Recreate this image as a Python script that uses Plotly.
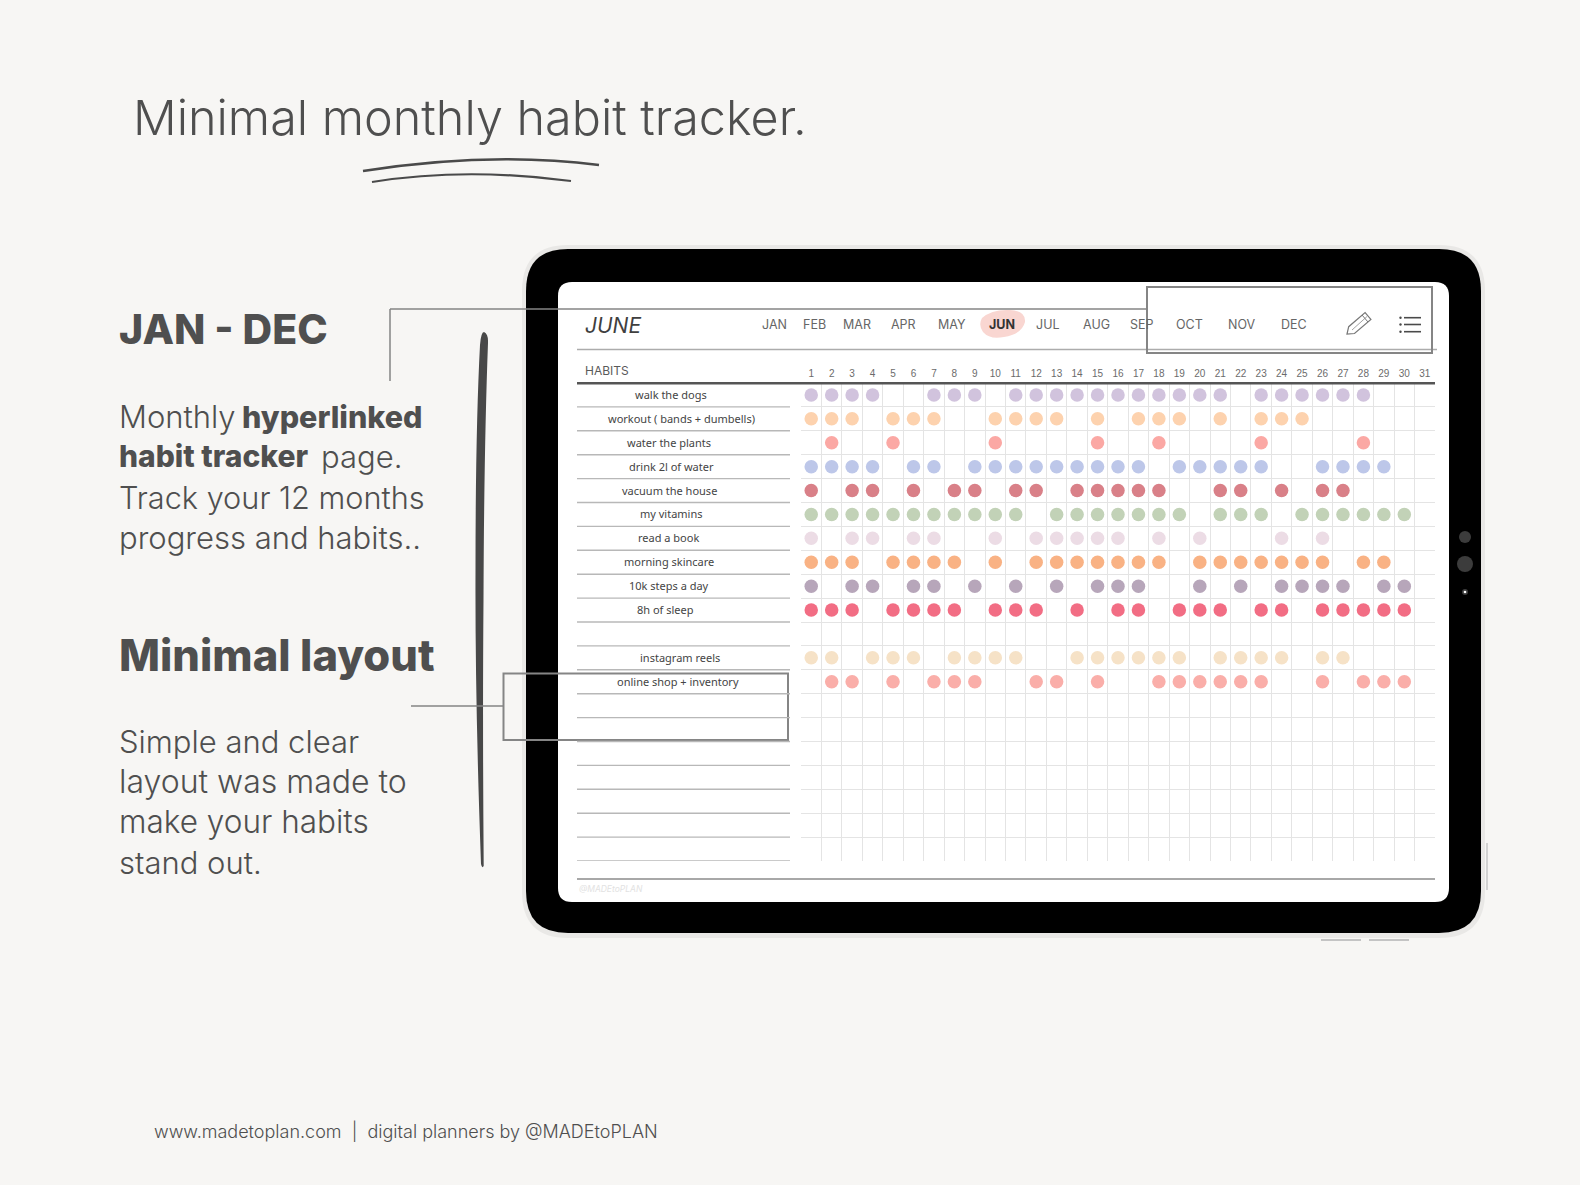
import plotly.graph_objects as go

# Habit rows, top to bottom ("" = empty row)
habits = ['walk the dogs', 'workout ( bands + dumbells)', 'water the plants', 'drink 2l of water',
          'vacuum the house', 'my vitamins', 'read a book', 'morning skincare', '10k steps a day',
          '8h of sleep', '', 'instagram reels', 'online shop + inventory',
          '', '', '', '', '', '', '']

days = list(range(1, 32))
months = ['JAN', 'FEB', 'MAR', 'APR', 'MAY', 'JUN', 'JUL', 'AUG', 'SEP', 'OCT', 'NOV', 'DEC']

# Ticked days per habit
walk_days = [1, 2, 3, 4, 7, 8, 9, 11, 12, 13, 14, 15, 16, 17, 18, 19, 20, 21, 23, 24, 25, 26, 27, 28]
workout_days = [1, 2, 3, 5, 6, 7, 10, 11, 12, 13, 15, 17, 18, 19, 21, 23, 24, 25]
plants_days = [2, 5, 10, 15, 18, 23, 28]
water_days = [1, 2, 3, 4, 6, 7, 9, 10, 11, 12, 13, 14, 15, 16, 17, 19, 20, 21, 22, 23, 26, 27, 28, 29]
vacuum_days = [1, 3, 4, 6, 8, 9, 11, 12, 14, 15, 16, 17, 18, 21, 22, 24, 26, 27]
vitamins_days = [1, 2, 3, 4, 5, 6, 7, 8, 9, 10, 11, 13, 14, 15, 16, 17, 18, 19, 21, 22, 23, 25, 26, 27, 28, 29, 30]
book_days = [1, 3, 4, 6, 7, 10, 12, 13, 14, 15, 16, 18, 20, 24, 26]
skincare_days = [1, 2, 3, 5, 6, 7, 8, 10, 12, 13, 14, 15, 16, 17, 18, 20, 21, 22, 23, 24, 25, 26, 28, 29]
steps_days = [1, 3, 4, 6, 7, 9, 11, 13, 15, 16, 17, 20, 22, 24, 25, 26, 27, 29, 30]
sleep_days = [1, 2, 3, 5, 6, 7, 8, 10, 11, 12, 14, 16, 17, 19, 20, 21, 23, 24, 26, 27, 28, 29, 30]
reels_days = [1, 2, 4, 5, 6, 8, 9, 10, 11, 14, 15, 16, 17, 18, 19, 21, 22, 23, 24, 26, 27]
shop_days = [2, 3, 5, 7, 8, 9, 12, 13, 15, 18, 19, 20, 21, 22, 23, 26, 28, 29, 30]

rows_days = {0: walk_days, 1: workout_days, 2: plants_days, 3: water_days, 4: vacuum_days, 5: vitamins_days,
             6: book_days, 7: skincare_days, 8: steps_days, 9: sleep_days, 11: reels_days, 12: shop_days}
row_colors = {0: '#d1c3dd', 1: '#fdd2ae', 2: '#fba8a4', 3: '#bdc7e9', 4: '#d98088', 5: '#c2d2b7',
              6: '#ecdce5', 7: '#f9b284', 8: '#b7a6ba', 9: '#f26d84', 11: '#f6e2c7', 12: '#faaea9'}
# label centres in the left column
label_x = [671, 681, 669, 671, 669, 671, 668, 669, 669, 665, 0, 680, 678]

HEAD = 'Inter'
DARK = '#4f4f4f'
CALLOUT = '#858585'

fig = go.Figure()

for row, row_days in rows_days.items():
    fig.add_trace(go.Scatter(x=row_days, y=[row] * len(row_days), mode='markers', xaxis='x2', yaxis='y2',
                             marker=dict(size=13.5, color=row_colors[row]), hoverinfo='skip'))


def rounded(x0, y0, x1, y1, r):
    return (f'M{x0 + r},{y0} L{x1 - r},{y0} Q{x1},{y0} {x1},{y0 + r} L{x1},{y1 - r} Q{x1},{y1} {x1 - r},{y1} '
            f'L{x0 + r},{y1} Q{x0},{y1} {x0},{y1 - r} L{x0},{y0 + r} Q{x0},{y0} {x0 + r},{y0} Z')


def path(d, fill=None, color=None, width=0, layer='below'):
    return dict(type='path', path=d, xref='x', yref='y', fillcolor=fill or 'rgba(0,0,0,0)', layer=layer,
                line=dict(color=color or 'rgba(0,0,0,0)', width=width))


def line(x0, y0, x1, y1, color, width, layer='above'):
    return dict(type='line', x0=x0, y0=y0, x1=x1, y1=y1, xref='x', yref='y', layer=layer,
                line=dict(color=color, width=width))


def circle(cx, cy, r, fill):
    return dict(type='circle', x0=cx - r, x1=cx + r, y0=cy - r, y1=cy + r, xref='x', yref='y',
                fillcolor=fill, line=dict(width=0), layer='above')


shapes = [
    # tablet body + screen
    path(rounded(522, 245, 1485, 938, 46), fill='#e9e8e6'),
    path(rounded(526, 249, 1481, 933, 42), fill='#000000'),
    path(rounded(558, 282, 1449, 902, 14), fill='#ffffff'),
    # side and bottom buttons
    line(1487, 843, 1487, 890, '#d2d2d2', 2),
    line(1321, 940, 1361, 940, '#c4c4c4', 2),
    line(1369, 940, 1409, 940, '#c4c4c4', 2),
    circle(1465, 537, 6, '#3c3c3c'),
    circle(1465, 564, 8, '#3c3c3c'),
    circle(1465, 592, 3, '#3c3c3c'),
    circle(1465, 592, 1.3, '#ffffff'),
    # active month
    path('M982,318 Q992,309 1010,310 Q1026,311 1025,322 Q1022,334 1004,337 Q990,340 983,332 Q978,325 982,318 Z',
         fill='#f9d6d1'),
    # page rules
    line(577, 349.5, 1437, 349.5, '#acacac', 1.5),
    line(577, 383.3, 1435, 383.3, '#555555', 2.5),
    line(577, 879, 1435, 879, '#a8a8a8', 2),
    # pencil
    path('M1347,334 L1348.7,326.7 L1365.1,312.6 L1370.9,319.4 L1354.5,333.5 Z', color='#777777', width=1.2),
    line(1352, 330, 1367, 316.5, '#8a8a8a', 0.8),
    line(1362, 315, 1368, 322, '#777777', 1),
    # menu icon
    line(1404, 317.7, 1421, 317.7, '#4a4a4a', 1.6),
    line(1404, 324.5, 1421, 324.5, '#4a4a4a', 1.6),
    line(1404, 331.7, 1421, 331.7, '#4a4a4a', 1.6),
    circle(1400.5, 317.7, 1.2, '#4a4a4a'),
    circle(1400.5, 324.5, 1.2, '#4a4a4a'),
    circle(1400.5, 331.7, 1.2, '#4a4a4a'),
    # title underline
    path('M363,171 Q490,151 599,165', color='#4a4a4a', width=2.4),
    path('M372,182 Q465,167 571,181', color='#4a4a4a', width=2.2),
    # hand drawn vertical stroke
    path('M484,332 Q488.5,334 488,343 Q484,450 483.5,600 Q482.5,720 483.7,866 Q482,869 481,864 '
         'Q475,700 475.5,570 Q475.5,430 480,345 Q481,332 484,332 Z', fill='#484848'),
    # callouts
    line(390, 309, 1147, 309, CALLOUT, 1.5),
    line(390, 309, 390, 381, CALLOUT, 1.5),
    dict(type='rect', x0=1147, x1=1432, y0=287, y1=353, xref='x', yref='y', layer='above',
         line=dict(color=CALLOUT, width=2)),
    line(411, 706, 503, 706, CALLOUT, 1.5),
    dict(type='rect', x0=503.5, x1=788, y0=673.5, y1=740, xref='x', yref='y', layer='above',
         line=dict(color=CALLOUT, width=2)),
]

# ruled lines under each habit
for i in range(len(habits)):
    shapes.append(dict(type='line', x0=577, x1=790, y0=i + 0.5, y1=i + 0.5, xref='x', yref='y2', layer='above',
                       line=dict(color='#b8b8b8', width=1.4)))


def text(x, y, s, size, color=DARK, family=HEAD, anchor='left', **font):
    return dict(x=x, y=y, xref='x', yref='y', text=s, showarrow=False, xanchor=anchor, yanchor='middle',
                font=dict(family=family, size=size, color=color, **font))


annotations = [
    text(131, 117, 'Minimal monthly habit tracker.', 48.5, weight=300),
    text(116.5, 329, 'JAN - DEC', 41, weight=800),
    text(116.5, 416, 'Monthly', 31, weight=300),
    text(240, 416, 'hyperlinked', 30.5, weight=800),
    text(116.5, 456, 'habit tracker', 30, weight=800),
    text(319, 456, 'page.', 31, weight=300),
    text(116.5, 497, 'Track your 12 months', 30.7, weight=300),
    text(116.5, 537, 'progress and habits..', 31, weight=300),
    text(116.5, 655, 'Minimal layout', 43.5, weight=800),
    text(116.5, 741, 'Simple and clear', 31, weight=300),
    text(116.5, 781, 'layout was made to', 32, weight=300),
    text(116.5, 821, 'make your habits', 31.5, weight=300),
    text(116.5, 862, 'stand out.', 31, weight=300),
    text(152, 1131, 'www.madetoplan.com&nbsp;&nbsp;|&nbsp;&nbsp;digital planners by @MADEtoPLAN', 18, weight=300),
    text(583, 325, 'JUNE', 21, color='#3f3f3f', style='italic'),
    text(583, 370, 'HABITS', 12, color='#5a5a5a'),
    text(577, 889, '@MADEtoPLAN', 8.5, color='#e2e2e2', style='italic'),
]

# month menu
month_x = [774, 814, 857, 903, 952, 1002, 1048, 1096, 1142, 1189, 1242, 1294]
for m, mx in zip(months, month_x):
    active = m == 'JUN'
    annotations.append(text(mx, 324.5, f'<b>{m}</b>' if active else m, 12.5, anchor='center',
                            color='#333333' if active else '#666666'))

for i, h in enumerate(habits):
    if h:
        annotations.append(dict(x=label_x[i], y=i - 0.02, xref='x', yref='y2', text=h, showarrow=False,
                                xanchor='center', yanchor='middle',
                                font=dict(family='Noto Sans', size=11, color='#444444')))

fig.update_layout(
    width=1580, height=1185, margin=dict(l=0, r=0, t=0, b=0), autosize=False,
    paper_bgcolor='#f7f6f4', plot_bgcolor='rgba(0,0,0,0)', showlegend=False, hovermode=False,
    shapes=shapes, annotations=annotations,
    # page axes in pixels for the tablet and the texts
    xaxis=dict(range=[0, 1580], domain=[0, 1], visible=False, fixedrange=True),
    yaxis=dict(range=[1185, 0], domain=[0, 1], visible=False, fixedrange=True),
    # the tracker grid
    xaxis2=dict(domain=[801 / 1580, 1435 / 1580], range=[0.5, 31.5], anchor='y2', side='top',
                tickmode='array', tickvals=days, ticktext=[str(d) for d in days],
                tickfont=dict(family='Liberation Sans', size=10, color='#6b6b6b'), ticks='', showgrid=False,
                zeroline=False, showline=False, fixedrange=True, ticklabelstandoff=3,
                minor=dict(tick0=0.5, dtick=1, showgrid=True, gridcolor='#e4e4e4', gridwidth=1)),
    yaxis2=dict(domain=[1 - 861 / 1185, 1 - 383 / 1185], range=[19.5, -0.5], anchor='x2',
                tickmode='linear', tick0=0, dtick=1, showticklabels=False, ticks='', showgrid=False,
                zeroline=False, showline=False, fixedrange=True,
                minor=dict(tick0=0.5, dtick=1, showgrid=True, gridcolor='#e4e4e4', gridwidth=1)),
)

# the page has a default body margin, drop it so the figure fills the window
fig.write_html('out.html', config={'displayModeBar': False},
               post_script="document.body.style.margin='0';document.body.style.overflow='hidden';")
